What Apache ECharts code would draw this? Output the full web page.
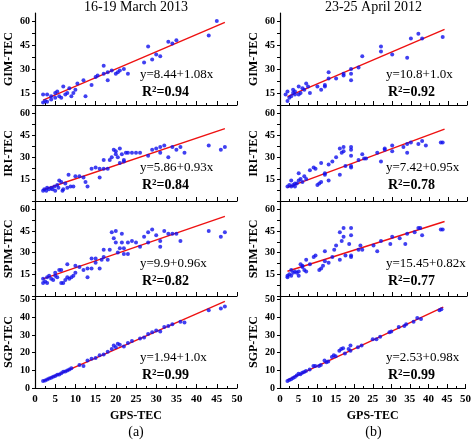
<!DOCTYPE html>
<html>
<head>
<meta charset="utf-8">
<script src="https://cdn.jsdelivr.net/npm/echarts@6/dist/echarts.min.js"></script>
<style>html,body{margin:0;padding:0;background:#fff}#main{width:474px;height:443px}</style>
</head>
<body>
<div id="main"></div>
<script>
var panelNames = ['GIM-TEC', 'IRI-TEC', 'SPIM-TEC', 'SGP-TEC'];
var colTitles = ['16-19 March 2013', '23-25 April 2012'];
var colTags = ['(a)', '(b)'];
var intercepts = [[8.44, 5.86, 9.9, 1.94], [10.8, 7.42, 15.45, 2.53]];
var slopes = [[1.08, 0.93, 0.96, 1.0], [1.0, 0.95, 0.82, 0.98]];
var eqTexts = [['y=8.44+1.08x', 'y=5.86+0.93x', 'y=9.9+0.96x', 'y=1.94+1.0x'],
               ['y=10.8+1.0x', 'y=7.42+0.95x', 'y=15.45+0.82x', 'y=2.53+0.98x']];
var r2Texts = [['0.94', '0.84', '0.82', '0.99'], ['0.92', '0.78', '0.77', '0.99']];
var lineX = [[2, 47], [2, 44]];

var gimA = [[2,9],[2.5,10],[3,9.5],[2,14],[3,14],[4,13],[4,11],[5,12],[5,15],[5.5,16],[6,13],[6.5,12],[7,19],[7.5,14],[8,15],[8.5,18],[9,13],[9.5,15],[10,17],[10.5,21],[12,23],[12.5,13],[14,20],[15,25],[15.5,26],[17,32],[17,27],[18,28],[18,23],[19,29],[20,27],[20.5,28],[21,29],[22,30],[23,27],[27,34],[28,44],[29,36],[30,39],[31,38],[33,47],[34,46],[35,48],[43,51],[45,60]];
var iriA = [[2,7],[2.3,8],[2.8,7],[3,9],[3.5,8],[4,9],[4.3,8],[4.8,10],[5,7],[5.5,11],[5.8,9],[6,14],[6.5,13],[6.8,7],[7,8],[7.5,12],[8,9],[8.3,18],[8.8,10],[9.5,10],[10,17],[11,17],[12,16],[12.5,13],[13,10],[14,22],[15,23],[16,22],[16,16],[17,22],[17,28],[18,22],[18.5,28],[19,30],[19.5,35],[20,32],[20,34],[20.5,30],[21,36],[21,26],[21.5,32],[22,28],[22,27],[22.5,33],[23,33],[24,33],[25,33],[26,33],[28,31],[29,35],[30,36],[31,37],[31,33],[32,38],[33,30],[34,37],[35,35],[36,37],[37,33],[43,38],[46,35],[47,37]];
var spimA = [[2,9],[2,12],[2.5,10],[3,13],[3,9],[3.5,14],[4,12],[4.5,11],[5,14],[5,16],[5.5,13],[6,18],[6.5,18],[6.5,9],[7,9],[7.5,11],[8,13],[8,22],[8.5,12],[9,13],[9.5,14],[10,21],[10,16],[11,20],[12,18],[13,19],[13,13],[14,26],[14,19],[15,23],[15,26],[16,19],[16.5,25],[17,27],[17,32],[18,25],[18.5,32],[19,44],[19.5,40],[20,37],[20,45],[20.5,30],[21,33],[21.5,43],[21.5,37],[22,33],[22,29],[23,29],[23,37],[24,38],[25,37],[26,34],[27,41],[28,37],[28,44],[29,46],[30,42],[31,34],[31,38],[32,45],[33,43],[34,43],[35,43],[36,38],[43,45],[46,41],[47,44]];
var sgpA = [[2,4],[2.5,4.3],[3,4.8],[3.5,5.3],[4,5.8],[4.5,6.4],[5,6.8],[5.5,7.5],[6,7.7],[6.5,8.3],[7,9.2],[7.5,9.3],[8,9.9],[8.5,10.5],[9,11.2],[11,13],[12,12.5],[13,15.5],[14,16.5],[15,17],[16,18.5],[17,19],[18,20.5],[19,22],[19.5,24],[20,23],[20.5,25],[21,24.5],[22,23.5],[23,25.5],[24,26.5],[26,28],[27,28.5],[28,30.5],[29,31.5],[30,32.5],[31,32],[32,34.5],[33,35],[34,36],[36,37.5],[37,37],[43,44],[46,45],[47,46]];
var gimB = [[1.5,14],[2,10],[2,16],[2.5,12],[3,13],[3.5,15],[3.5,17],[4,14],[4,16],[5,14],[5,19],[5.5,15],[6,18],[6.5,17],[7,21],[7.5,19],[8,15],[10,19],[11,17],[12,19],[12,20],[13,28],[13,24],[15,24],[17,27],[17,26],[19,23],[19,27],[19,30],[21,31],[22,38],[27,41],[27,44],[30,39],[34,37],[35,49],[37,52],[38,49],[43.5,50]];
var iriB = [[2,10],[2.5,11],[3,14],[3,10],[3.5,11],[4,12],[4,10],[4.5,12],[5,14],[5,19],[5.5,15],[6,13],[6.5,17],[7,15],[8,21],[9,23],[9.5,22],[10,11],[10.5,12],[11,13],[11,26],[12,19],[12,18],[13,14],[13,25],[14,27],[15,30],[16,18],[16,36],[16.5,33],[17,34],[17,37],[17.5,24],[19,31],[19,35],[19,37],[19,24],[19,23],[21,28],[22,32],[22.5,29],[23,29],[26,33],[27,27],[28,35],[28,36],[30,34],[30,38],[33,37],[34,33],[34,39],[35,40],[37,39],[38,41],[39,38],[43,40],[43.5,40]];
var spimB = [[2,13],[2,14],[2.5,15],[3,14],[3,18],[3.5,16],[4,17],[4.5,16],[5,17],[5,14],[5.5,22],[6,21],[6,20],[6.5,18],[7,17],[7,25],[8,22],[9,27],[9.5,28],[10.5,18],[11,19],[11.5,21],[12,24],[12,31],[13,23],[14,27],[14.5,32],[15,35],[16,25],[16,44],[16.5,38],[17,41],[17,47],[17.5,28],[18.5,36],[19,42],[19,47],[19,28],[19,27],[21,32],[21.5,35],[22,32],[25,35],[26,31],[27,38],[29.5,36],[30,41],[32,40],[33.5,36],[34,43],[36,44],[37,47],[37.5,47],[38,42],[43,46],[43.5,46]];
var sgpB = [[2,4],[2.5,4.5],[3,5],[3.5,5.6],[4,6.2],[4.5,7],[5,8],[5.5,7.8],[6,8.6],[6.5,9],[7,9.6],[8,10.5],[9,12.5],[9.5,12.5],[10.5,12.5],[11,13],[12,15.5],[12.5,14.5],[13,15],[14,17.5],[14.5,18.5],[15,18],[16,21],[16.5,22],[17,22.5],[17.5,19.5],[18.5,22],[19,24],[19,21],[21,23],[22,24],[25,27.5],[26,27.5],[27,29],[29.5,31.5],[30,32],[32,34.5],[33.5,35],[34,36],[36,37.5],[37,39.5],[38,39],[43,44],[43.5,44.5]];
var scatterData = [[gimA, iriA, spimA, sgpA], [gimB, iriB, spimB, sgpB]];

var yMins = [7.5, 0, 0, 0];
var yMaxs = [65, 65, 65, 52];
var yIntervals = [7.5, 7.5, 7.5, 10];

var grids = [], xAxes = [], yAxes = [], series = [], graphics = [];
var gridTops = [13, 106, 202, 296];
var gridHeights = [92, 95, 94, 92];
var colLeft = [35, 280], colWidth = [202, 187];
var serif = 'Liberation Serif';

for (var c = 0; c < 2; c++) {
  for (var p = 0; p < 4; p++) {
    var idx = c * 4 + p;
    var last = p === 3;
    grids.push({left: colLeft[c], top: gridTops[p], width: colWidth[c], height: gridHeights[p]});
    xAxes.push({
      gridIndex: idx, type: 'value', min: 0, max: 50, interval: 5,
      axisLine: {lineStyle: {color: '#000', width: 1.2}},
      axisTick: {inside: true, length: 4, lineStyle: {color: '#000'}},
      minorTick: {show: true, splitNumber: 2, length: 2, lineStyle: {color: '#000'}},
      splitLine: {show: false},
      axisLabel: {show: last, color: '#000', fontFamily: serif, fontWeight: 'bold', fontSize: 11, margin: 6},
      name: last ? 'GPS-TEC' : '', nameLocation: 'middle', nameGap: 22,
      nameTextStyle: {color: '#000', fontFamily: serif, fontWeight: 'bold', fontSize: 12}
    });
    yAxes.push({
      gridIndex: idx, type: 'value', min: yMins[p], max: yMaxs[p], interval: yIntervals[p],
      axisLine: {show: true, lineStyle: {color: '#000', width: 1.2}},
      axisTick: {show: true, inside: false, length: 3, lineStyle: {color: '#000'}},
      splitLine: {show: false},
      axisLabel: {color: '#000', fontFamily: serif, fontWeight: 'bold', fontSize: 10, margin: 5,
        showMaxLabel: false,
        formatter: (function (pp) { return function (v) {
          if (pp === 3) return v;
          return (v > 0 && v % 15 === 0) ? v : '';
        }; })(p)},
      name: panelNames[p], nameLocation: 'middle', nameRotate: 90, nameGap: 20,
      nameTextStyle: {color: '#000', fontFamily: serif, fontWeight: 'bold', fontSize: 12}
    });
    series.push({
      type: 'scatter', xAxisIndex: idx, yAxisIndex: idx, data: scatterData[c][p],
      symbolSize: 4, itemStyle: {color: '#1010ee'}, silent: true, z: 3
    });
    var lx = lineX[c];
    series.push({
      type: 'line', xAxisIndex: idx, yAxisIndex: idx, symbol: 'none', silent: true, z: 2,
      lineStyle: {color: '#ee1111', width: 1.4},
      data: lx.map(function (x) { return [x, intercepts[c][p] + slopes[c][p] * x]; })
    });
    var tx = c === 0 ? 140 : 386;
    graphics.push({type: 'text', left: tx, top: gridTops[p] + 55,
      style: {text: eqTexts[c][p], font: '13px ' + serif, fill: '#000'}});
    graphics.push({type: 'text', left: tx + 2, top: gridTops[p] + 72,
      style: {text: '{b|R}{s|2}{b|=' + r2Texts[c][p] + '}', fill: '#000',
        rich: {b: {font: 'bold 14px ' + serif, fill: '#000'},
               s: {font: 'bold 9px ' + serif, fill: '#000', verticalAlign: 'top', padding: [0, 0, 6, 0]}}}});
  }
  var cx = colLeft[c] + colWidth[c] / 2;
  graphics.push({type: 'text', x: cx, y: 0,
    style: {text: colTitles[c], font: '14px ' + serif, fill: '#000', textAlign: 'center'}});
  graphics.push({type: 'text', x: cx, y: 425,
    style: {text: colTags[c], font: '14px ' + serif, fill: '#000', textAlign: 'center'}});
}

var chart = echarts.init(document.getElementById('main'));
chart.setOption({
  animation: false,
  grid: grids, xAxis: xAxes, yAxis: yAxes, series: series, graphic: graphics
});
</script>
</body>
</html>
